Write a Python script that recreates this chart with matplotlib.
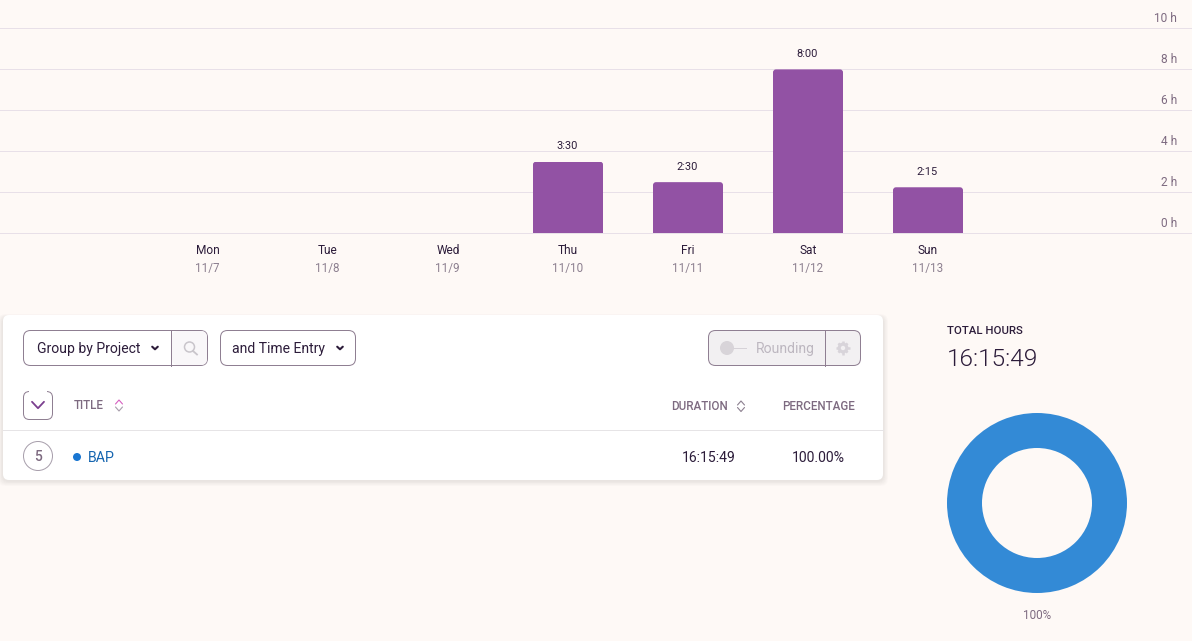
import matplotlib
matplotlib.use("Agg")
import matplotlib.pyplot as plt
from matplotlib.patches import FancyBboxPatch, Circle, Rectangle
from matplotlib.transforms import ScaledTranslation

plt.rcParams['font.family'] = ['Roboto', 'DejaVu Sans']

days = ['Mon', 'Tue', 'Wed', 'Thu', 'Fri', 'Sat', 'Sun']
dates = ['11/7', '11/8', '11/9', '11/10', '11/11', '11/12', '11/13']
hours = [0, 0, 0, 3.5, 2.5, 8.0, 2.25]
bar_labels = ['', '', '', '3:30', '2:30', '8:00', '2:15']
y_ticks = [0, 2, 4, 6, 8, 10]
y_labels = ['0 h', '2 h', '4 h', '6 h', '8 h', '10 h']
pie_values = [100]
pie_labels = ['100%']
total_hours = '16:15:49'
project = 'BAP'
entries = '5'
percentage = '100.00%'

W, H = 1192, 641
BG = '#fef9f6'
DARK = '#2c1c3a'
MUTED = '#7d6a80'
BORDER = '#8f7f92'
GRID = '#e8e0e8'
PURPLE = '#9252a4'
BLUE = '#338ad6'
LW = 0.72

fig = plt.figure(figsize=(W / 100, H / 100), dpi=100, facecolor=BG)

# ---------- bar chart ----------
px_h = 20.5
base_y = 233.4
px_cat = 120.0
first_x = 208.0
ax = fig.add_axes([0, 1 - base_y / H, 1, base_y / H], facecolor='none')
ax.set_xlim(-first_x / px_cat, (W - first_x) / px_cat)
ax.set_ylim(0, base_y / px_h)
xs = list(range(len(days)))
bars = ax.bar(xs, hours, width=70 / px_cat, color=PURPLE, zorder=3)
for x, bar, h, lab in zip(xs, bars, hours, bar_labels):
    if h > 0:
        clip = FancyBboxPatch((x - 35 / px_cat, -1), 70 / px_cat, h + 1,
                              boxstyle=f'round,pad=0,rounding_size={3 / px_cat}',
                              mutation_aspect=px_cat / px_h, transform=ax.transData)
        bar.set_clip_path(clip)
        ax.annotate(lab, (x, h), xytext=(-0.4, 11.2), textcoords='offset points',
                    ha='center', va='center', fontsize=7.9, color=DARK)
for s in ['top', 'left', 'right']:
    ax.spines[s].set_visible(False)
ax.spines['bottom'].set_color(GRID)
ax.spines['bottom'].set_linewidth(LW)
ax.set_axisbelow(True)
ax.grid(axis='y', color=GRID, lw=LW)
ax.set_xticks(xs, days)
ax.tick_params(axis='x', length=0, pad=7.8, labelsize=8.6, labelcolor=DARK)
ax.yaxis.tick_right()
ax.set_yticks(y_ticks, y_labels)
ax.tick_params(axis='y', length=0, pad=-15 * 0.72, labelsize=8.6, labelcolor=MUTED)
shift = ScaledTranslation(0, 10 / 100, fig.dpi_scale_trans)
for t in ax.get_yticklabels():
    t.set_horizontalalignment('right')
    t.set_verticalalignment('center')
    t.set_transform(t.get_transform() + shift)
for x, d in zip(xs, dates):
    ax.annotate(d, (x, 0), xytext=(-0.4, -25), textcoords='offset points',
                ha='center', va='center', fontsize=8.4, color='#8c7f8f',
                annotation_clip=False)

# ---------- interface panel, in pixel coordinates ----------
ui2 = fig.add_axes([0, 0, 1, 1], facecolor='none', zorder=5)
ui2.set_xlim(0, W)
ui2.set_ylim(H, 0)
ui2.axis('off')


def rbox(x0, y0, x1, y1, r=6, fc='white', ec='none', lw=LW, alpha=None, z=2):
    p = FancyBboxPatch((x0, y0), x1 - x0, y1 - y0,
                       boxstyle=f'round,pad=0,rounding_size={r}',
                       fc=fc, ec=ec, lw=lw, alpha=alpha, zorder=z)
    ui2.add_patch(p)
    return p


def chevron(cx, cy, w, h, color, lw=1.2, up=False, z=6):
    s = -1 if up else 1
    ui2.plot([cx - w, cx, cx + w], [cy - s * h, cy + s * h, cy - s * h],
             color=color, lw=lw, solid_capstyle='round', solid_joinstyle='round', zorder=z)


for i in range(7, 0, -1):
    rbox(3 - i * 0.7, 315 + 2 - i * 0.4, 883 + i * 0.7, 480 + 1 + i * 0.7, r=7,
         fc='#5a4a60', alpha=0.014, z=1)
rbox(3, 315, 883, 480, r=6, fc='white', z=2)

# group selector
rbox(23.5, 330.5, 207.5, 365.5, r=7, fc='white', ec=BORDER, z=3)
ui2.add_patch(FancyBboxPatch((172, 331), 35, 34, boxstyle='round,pad=0,rounding_size=6',
                             fc='#f9f7f9', ec='none', zorder=3.2))
ui2.plot([171, 171], [330.5, 365.5], color=BORDER, lw=LW, zorder=4)
ui2.text(37, 348.5, 'Group by Project', fontsize=10.1, color=DARK, va='center', zorder=6)
chevron(155, 348, 2.8, 1.3, DARK, lw=1.5)
ui2.add_patch(Circle((189.5, 347), 5, fc='none', ec='#c9c5cb', lw=1.1, zorder=6))
ui2.plot([193, 197], [351, 354.5], color='#c9c5cb', lw=1.3, zorder=6)

rbox(220.5, 330.5, 355.5, 365.5, r=7, fc='white', ec=BORDER, z=3)
ui2.text(232, 348.5, 'and Time Entry', fontsize=10.1, color=DARK, va='center', zorder=6)
chevron(340, 348, 2.8, 1.3, DARK, lw=1.5)

# rounding toggle
rbox(708.5, 330.5, 860.5, 365.5, r=7, fc='#f2f0f2', ec=BORDER, z=3)
ui2.plot([825, 825], [330.5, 365.5], color=BORDER, lw=LW, zorder=4)
ui2.plot([727, 746], [348, 348], color='#d6d2d8', lw=LW, zorder=5)
ui2.add_patch(Circle((727, 348), 7, fc='#d8d4d9', ec='none', zorder=6))
ui2.text(756, 348.5, 'Rounding', fontsize=10.1, color='#bdb7c0', va='center', zorder=6)
GEAR = '#d8d4da'
for a, b in [(-4.6, 4.6), (4.6, 4.6)]:
    ui2.plot([843 + a, 843 - a], [348 + b, 348 - b], color=GEAR, lw=1.8,
             solid_capstyle='butt', zorder=6)
for a, b in [(0, 6.8), (6.8, 0)]:
    ui2.plot([843 - a, 843 + a], [348 - b, 348 + b], color=GEAR, lw=1.8,
             solid_capstyle='butt', zorder=6)
ui2.add_patch(Circle((843, 348), 5.4, fc=GEAR, ec='none', zorder=6))
ui2.add_patch(Circle((843, 348), 2.2, fc='#f2f0f2', ec='none', zorder=7))

# table header
rbox(23.5, 391.5, 52.5, 419.5, r=6, fc='white', ec=BORDER, z=3)
ui2.add_patch(Rectangle((29, 389), 18, 4, fc='white', ec='none', zorder=4))
chevron(38, 405, 6, 3.2, '#7b3f8f', lw=1.3)
hdr = dict(fontsize=8.4, color=MUTED, va='center', weight=500, zorder=6)
ui2.text(74, 405.5, 'TITLE', **hdr)
chevron(119, 402, 3.5, 2, '#d65fc0', lw=0.8, up=True)
chevron(119, 409, 3.5, 2, '#a79dab', lw=0.8)
ui2.text(671, 406, 'DURATION', **hdr)
chevron(741, 403, 3.5, 2, '#8c8090', lw=0.8, up=True)
chevron(741, 409.5, 3.5, 2, '#8c8090', lw=0.8)
ui2.text(782, 406, 'PERCENTAGE', **hdr)
ui2.plot([3, 883], [430, 430], color='#e6e4e6', lw=LW, zorder=4)

# table row
ui2.add_patch(Circle((38, 456), 14.5, fc='white', ec='#a89fac', lw=LW, zorder=4))
ui2.text(38, 457, entries, fontsize=10, color=MUTED, ha='center', va='center', weight=500, zorder=6)
ui2.add_patch(Circle((77, 457), 4, fc='#1976d2', ec='none', zorder=6))
ui2.text(88, 457.5, project, fontsize=10.2, color='#1565b0', va='center', zorder=6)
ui2.text(708.5, 457.5, total_hours, fontsize=10.1, color=DARK, ha='center', va='center', zorder=6)
ui2.text(818.5, 457.5, percentage, fontsize=10.1, color=DARK, ha='center', va='center', zorder=6)

# totals
ui2.text(947, 330.5, 'TOTAL HOURS', fontsize=8.2, color=DARK, va='center', weight=500, zorder=6)
ui2.text(947, 359, total_hours, fontsize=17.6, color=DARK, va='center', weight=300, zorder=6)

# ---------- donut ----------
dax = fig.add_axes([947 / W, 1 - 593 / H, 180 / W, 180 / H], facecolor='none')
dax.pie(pie_values, colors=[BLUE], radius=1, startangle=90,
        wedgeprops=dict(width=35 / 90, edgecolor='none'))
dax.set_xlim(-1, 1)
dax.set_ylim(-1, 1)
dax.set_aspect('equal')
dax.annotate(pie_labels[0], (0, -1), xytext=(0, -16.5), textcoords='offset points',
             ha='center', va='center', fontsize=8.4, color=MUTED, annotation_clip=False)

fig.savefig('out.png', dpi=100, facecolor=BG)
